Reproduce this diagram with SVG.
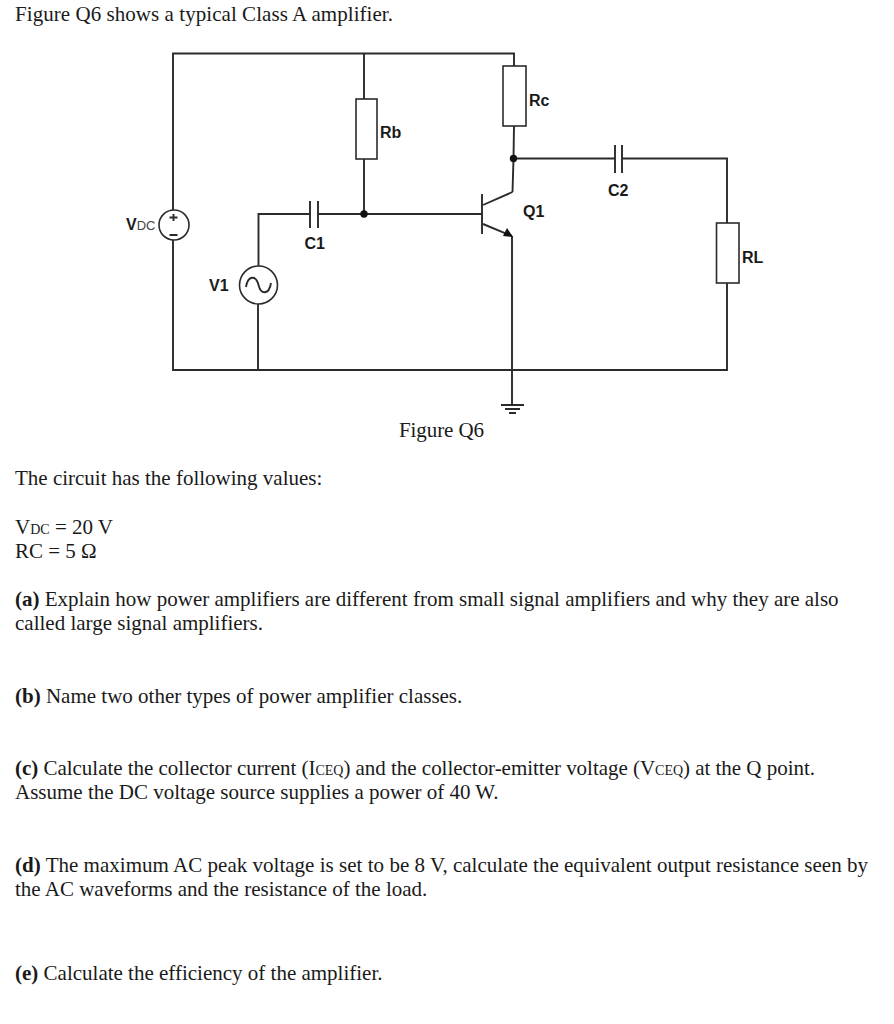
<svg xmlns="http://www.w3.org/2000/svg" width="894" height="1024" viewBox="0 0 894 1024">
<style>
.w{fill:none;stroke:#2b2b2b;stroke-width:1.9}
.b{fill:#fff;stroke:#2b2b2b;stroke-width:1.6}
.d{fill:#111;stroke:none}
.l{font-family:"Liberation Sans",Arial,sans-serif;font-size:16px;font-weight:700;fill:#1a1a1a}
.t{font-family:"Liberation Serif","Times New Roman",serif;font-size:21px;fill:#1a1a1a}
.s{font-size:14px}
.h{font-weight:700}
</style>
<rect width="894" height="1024" fill="#fff"/>
<g id="connectors">
<path class="w" d="M173 210V53.500H514V66"/>
<path class="w" d="M173 240V370H727V283"/>
<path class="w" d="M364 53.500V99M364 159V214"/>
<path class="w" d="M258.500 266V214H310M318 214H482"/>
<path class="w" d="M258 304V370"/>
<path class="w" d="M514 126L513.500 158.500L512.500 192"/>
<path class="w" d="M513.500 158.500H615M622 158.500H727V223"/>
<path class="w" d="M512 236V405"/>
</g>
<g id="VDC"><circle class="b" cx="174" cy="225" r="15"/><path class="w" stroke-width="1.300" d="M169.500 217.500h8M173.500 214v7M169.500 235h8"/><text class="l" x="126" y="230">V<tspan font-size="13" font-weight="400" fill="#444">DC</tspan></text></g>
<g id="V1"><circle class="b" cx="258.500" cy="285" r="19"/><path class="w" d="M246 287c2-12 10-12 12.500-2s10.500 10 12.500-2"/><text class="l" x="209" y="291">V1</text></g>
<g id="C1"><path class="w" d="M310 201V228M318 201V228"/><text class="l" x="304.500" y="249">C1</text></g>
<g id="Rb"><rect class="b" x="356" y="99" width="21" height="60"/><text class="l" x="380" y="138">Rb</text></g>
<g id="Rc"><rect class="b" x="503" y="66" width="23" height="60"/><text class="l" x="529" y="106">Rc</text></g>
<g id="C2"><path class="w" d="M615 145V173M622 145V173"/><text class="l" x="608" y="196">C2</text></g>
<g id="RL"><rect class="b" x="716.500" y="223" width="22.500" height="60"/><text class="l" x="742" y="263">RL</text></g>
<g id="Q1"><path class="w" d="M482 194V234M483 205L512.500 192M483 224L512 236"/><path class="d" d="M513 237L503 236L507 228Z"/><text class="l" x="523" y="217">Q1</text></g>
<g id="J1"><circle class="d" cx="364" cy="214" r="3.700"/></g>
<g id="J2"><circle class="d" cx="513.500" cy="158.500" r="3.700"/></g>
<g id="GND"><path class="w" d="M501 405H524M505 409H520M509 413H516"/></g>
<g id="text">
<text class="t" x="15" y="21" textLength="378">Figure Q6 shows a typical Class A amplifier.</text>
<text class="t" x="399" y="437" textLength="85">Figure Q6</text>
<text class="t" x="15" y="485">The circuit has the following values:</text>
<text class="t" x="15" y="534">V<tspan class="s">DC</tspan> = 20 V</text>
<text class="t" x="15" y="558">RC = 5 Ω</text>
<text class="t" x="15" y="606"><tspan class="h">(a)</tspan> Explain how power amplifiers are different from small signal amplifiers and why they are also</text>
<text class="t" x="15" y="630">called large signal amplifiers.</text>
<text class="t" x="15" y="703"><tspan class="h">(b)</tspan> Name two other types of power amplifier classes.</text>
<text class="t" x="15" y="775" textLength="800"><tspan class="h">(c)</tspan> Calculate the collector current (I<tspan class="s">CEQ</tspan>) and the collector-emitter voltage (V<tspan class="s">CEQ</tspan>) at the Q point.</text>
<text class="t" x="15" y="799">Assume the DC voltage source supplies a power of 40 W.</text>
<text class="t" x="15" y="872" textLength="853"><tspan class="h">(d)</tspan> The maximum AC peak voltage is set to be 8 V, calculate the equivalent output resistance seen by</text>
<text class="t" x="15" y="896">the AC waveforms and the resistance of the load.</text>
<text class="t" x="15" y="980"><tspan class="h">(e)</tspan> Calculate the efficiency of the amplifier.</text>
</g>
</svg>
